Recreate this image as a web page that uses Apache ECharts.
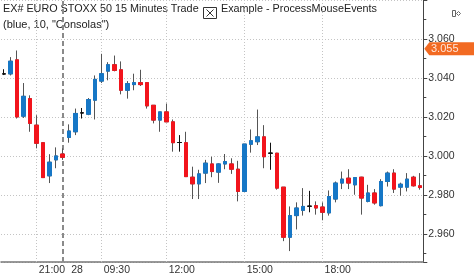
<!DOCTYPE html>
<html><head><meta charset="utf-8">
<script src="https://cdn.jsdelivr.net/npm/echarts@6/dist/echarts.min.js"></script>
<style>html,body{margin:0;padding:0;background:#fff}#c{width:474px;height:278px}</style>
</head><body><div id="c"></div>
<script>
// ---- data ----
const categories = [
 '27 19:45','27 20:00','27 20:15','27 20:30','27 20:45','27 21:00','27 21:15','27 21:30','27 21:45','27 22:00',
 '28 08:15','28 08:30','28 08:45','28 09:00','28 09:15','28 09:30','28 09:45','28 10:00','28 10:15','28 10:30',
 '28 10:45','28 11:00','28 11:15','28 11:30','28 11:45','28 12:00','28 12:15','28 12:30','28 12:45','28 13:00',
 '28 13:15','28 13:30','28 13:45','28 14:00','28 14:15','28 14:30','28 14:45','28 15:00','28 15:15','28 15:30',
 '28 15:45','28 16:00','28 16:15','28 16:30','28 16:45','28 17:00','28 17:15','28 17:30','28 17:45','28 18:00',
 '28 18:15','28 18:30','28 18:45','28 19:00','28 19:15','28 19:30','28 19:45','28 20:00','28 20:15','28 20:30',
 '28 20:45','28 21:00','28 21:15','28 21:30','28 21:45'
];
const opens = [
 3.0421,3.0421,3.0493,3.0204,3.0294,3.0158,3.0068,2.9898,2.9980,3.0010,
 3.0095,3.0124,3.0221,3.0214,3.0286,3.0384,3.0435,3.0468,3.0442,3.0337,
 3.0366,3.0376,3.0376,3.0260,3.0184,3.0226,3.0175,3.0069,3.0068,2.9891,
 2.9857,2.9912,2.9959,2.9917,2.9959,2.9959,2.9932,2.9818,3.0060,3.0073,
 3.0098,3.0014,3.0014,2.9840,2.9583,2.9694,2.9721,2.9742,2.9745,2.9738,
 2.9708,2.9779,2.9861,2.9886,2.9852,2.9891,2.9767,2.9810,2.9745,2.9869,
 2.9912,2.9840,2.9840,2.9891,2.9847
];
const closes = [
 3.0421,3.0486,3.0200,3.0306,3.0167,3.0065,2.9889,2.9968,3.0000,2.9993,
 3.0128,3.0218,3.0221,3.0289,3.0393,3.0422,3.0468,3.0439,3.0337,3.0371,
 3.0376,3.0366,3.0257,3.0184,3.0226,3.0175,3.0068,3.0069,2.9894,2.9857,
 2.9908,2.9963,2.9920,2.9959,2.9971,2.9932,2.9818,3.0061,3.0078,3.0098,
 2.9996,3.0014,2.9835,2.9583,2.9694,2.9733,2.9741,2.9742,2.9733,2.9711,
 2.9792,2.9861,2.9881,2.9861,2.9889,2.9784,2.9810,2.9759,2.9869,2.9912,
 2.9830,2.9855,2.9881,2.9847,2.9838
];
const lows = [
 3.0415,3.0413,3.0192,3.0195,3.0124,3.0039,2.9888,2.9861,2.9937,2.9980,
 3.0068,3.0107,3.0192,3.0209,3.0187,3.0374,3.0388,3.0434,3.0316,3.0294,
 3.0337,3.0359,3.0243,3.0167,3.0124,3.0175,3.0022,3.0022,2.9894,2.9779,
 2.9779,2.9861,2.9891,2.9862,2.9932,2.9908,2.9767,2.9818,3.0017,3.0056,
 2.9937,2.9929,2.9827,2.9563,2.9512,2.9623,2.9694,2.9711,2.9699,2.9670,
 2.9694,2.9762,2.9830,2.9830,2.9801,2.9699,2.9762,2.9750,2.9741,2.9843,
 2.9810,2.9796,2.9818,2.9843,2.9827
];
const highs = [
 3.0445,3.0507,3.0541,3.0374,3.0311,3.0209,3.0069,3.0009,3.0044,3.0039,
 3.0162,3.0243,3.0246,3.0297,3.0413,3.0524,3.0481,3.0515,3.0485,3.0384,
 3.0422,3.0442,3.0376,3.0260,3.0226,3.0269,3.0187,3.0107,3.0124,2.9945,
 2.9929,2.9980,2.9996,2.9962,3.0010,2.9988,2.9975,3.0061,3.0136,3.0238,
 3.0158,3.0068,3.0016,2.9840,2.9741,2.9762,2.9835,2.9821,2.9767,2.9762,
 2.9823,2.9869,2.9920,2.9932,2.9892,2.9893,2.9852,2.9830,2.9881,2.9920,
 2.9932,2.9863,2.9912,2.9898,2.9912
];
const tickIndices = [5, 10, 15, 25, 37, 49];
const tickTexts = ['21:00', '28', '09:30', '12:00', '15:00', '18:00'];
const gridIndices = [5, 15, 25, 37, 49];
const sessionBreakIndex = 9;
const lastPrice = 3.055;
const yMin = 2.9456, yMax = 3.0800;

// ---- styles ----
const UP = '#1677c6', DOWN = '#f2141c', WICK = '#555', DOJI = '#111';
const FONT = 'Liberation Sans, Arial, sans-serif';

const chart = echarts.init(document.getElementById('c'), null, {renderer: 'canvas'});

const wickData = categories.map((c, i) => {
  const item = {value: [opens[i], closes[i], lows[i], highs[i]]};
  if (opens[i] === closes[i]) item.itemStyle = {borderColor: DOJI, borderColor0: DOJI};
  return item;
});
const bodyData = categories.map((c, i) => {
  const item = {value: [opens[i], closes[i], Math.min(opens[i], closes[i]), Math.max(opens[i], closes[i])]};
  if (opens[i] === closes[i]) item.itemStyle = {borderColor: DOJI, borderColor0: DOJI};
  return item;
});

const dotted = {color: '#c4c4c4', width: 1, type: [1, 2]};
const markLines = gridIndices.map(i => ({xAxis: i}));
markLines.push({xAxis: sessionBreakIndex, lineStyle: {color: '#8a8a8a', width: 2, type: [5, 3]}});

chart.setOption({
  animation: false,
  backgroundColor: '#fff',
  grid: {left: 1, right: 50.7, top: 0, bottom: 16, containLabel: false},
  xAxis: {
    type: 'category',
    data: categories,
    boundaryGap: true,
    axisLine: {lineStyle: {color: '#777', width: 1.5}},
    axisTick: {
      alignWithLabel: true, length: 4,
      interval: (idx) => tickIndices.includes(idx),
      lineStyle: {color: '#555'}
    },
    axisLabel: {
      interval: (idx) => tickIndices.includes(idx),
      formatter: (v) => { const k = tickIndices.indexOf(categories.indexOf(v)); return k >= 0 ? tickTexts[k] : ''; },
      align: 'left', padding: [0, 0, 0, 2], margin: 3,
      color: '#333', fontSize: 10.5, fontFamily: FONT
    },
    splitLine: {show: false}
  },
  yAxis: {
    type: 'value', position: 'right', scale: true,
    min: yMin, max: yMax, splitNumber: 7, minInterval: 0.02, maxInterval: 0.02,
    axisLine: {show: true, lineStyle: {color: '#444', width: 1}},
    axisTick: {show: true, inside: false, length: 4, lineStyle: {color: '#444'}},
    minorTick: {show: true, splitNumber: 2, length: 3, lineStyle: {color: '#444'}},
    axisLabel: {
      formatter: v => v.toFixed(3), showMinLabel: false, showMaxLabel: false,
      margin: 5, color: '#333', fontSize: 10.5, fontFamily: FONT
    },
    splitLine: {show: true, lineStyle: dotted},
    minorSplitLine: {show: false}
  },
  series: [
    {
      type: 'candlestick', name: 'wick', data: wickData, barWidth: 4, z: 2,
      itemStyle: {color: 'rgba(0,0,0,0)', color0: 'rgba(0,0,0,0)', borderColor: WICK, borderColor0: WICK, borderColorDoji: DOJI, borderWidth: 1},
      markLine: {
        silent: true, symbol: ['none', 'none'], z: 1,
        label: {show: false},
        lineStyle: dotted,
        data: markLines
      }
    },
    {
      type: 'candlestick', name: 'body', data: bodyData, barWidth: 4, z: 3,
      itemStyle: {color: UP, color0: DOWN, borderColor: UP, borderColor0: DOWN, borderColorDoji: DOJI, borderWidth: 1}
    }
  ]
});

const py = chart.convertToPixel({yAxisIndex: 0}, lastPrice);
const ax = 474 - 50.7;
chart.setOption({
  graphic: [
    {type: 'text', left: 3, top: 4, style: {text: 'EX# EURO STOXX 50 15 Minutes Trade', font: '10.8px ' + FONT, fill: '#222'}},
    {type: 'rect', shape: {x: 203.5, y: 7.5, width: 13, height: 11}, style: {fill: '#fff', stroke: '#333', lineWidth: 1}},
    {type: 'polyline', shape: {points: [[206.5, 9.5], [213.5, 16.5]]}, style: {stroke: '#333', lineWidth: 1}},
    {type: 'polyline', shape: {points: [[213.5, 9.5], [206.5, 16.5]]}, style: {stroke: '#333', lineWidth: 1}},
    {type: 'text', left: 221, top: 4, style: {text: 'Example - ProcessMouseEvents', font: '10.8px ' + FONT, fill: '#222'}},
    {type: 'text', left: 3, top: 19, style: {text: '(blue, 10, "Consolas")', font: '11px ' + FONT, fill: '#222'}},
    {type: 'rect', shape: {x: 452.5, y: 10.5, width: 3, height: 6}, style: {fill: 'none', stroke: '#666', lineWidth: 1}},
    {type: 'polygon', shape: {points: [[456.5, 13.5], [458.5, 11.5], [460.5, 13.5], [458.5, 15.5]]}, style: {fill: 'none', stroke: '#666', lineWidth: 1}},
    {type: 'polygon', z: 10, shape: {points: [[ax + 1, py], [ax + 6, py - 6.5], [474, py - 6.5], [474, py + 6.5], [ax + 6, py + 6.5]]}, style: {fill: '#f26a22'}},
    {type: 'text', z: 11, x: 431, y: py, style: {text: lastPrice.toFixed(3), font: '11px ' + FONT, fill: '#ffe6da', verticalAlign: 'middle'}}
  ]
});
</script></body></html>
